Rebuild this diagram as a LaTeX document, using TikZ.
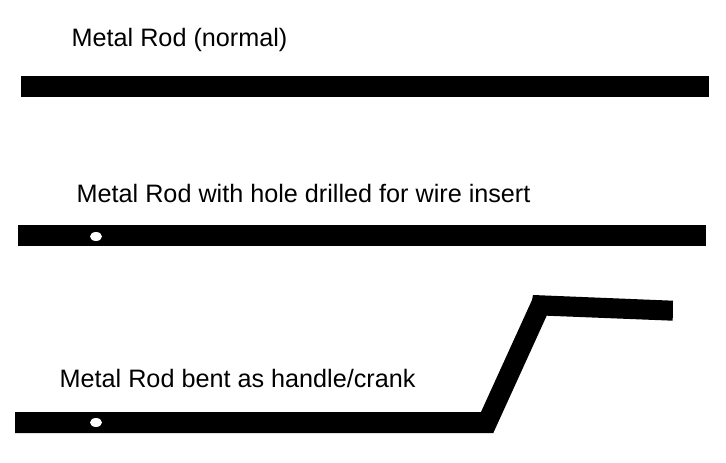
\documentclass[tikz,border=0pt]{standalone}
\usepackage{fontspec}
\setmainfont{Liberation Sans}
\begin{document}
\begin{tikzpicture}[x=1pt,y=-1pt,
  rod/.style={fill=black,draw=none},
  hole/.style={fill=white,draw=none},
  lbl/.style={anchor=base west,inner sep=0pt,font=\fontsize{25.2}{30}\selectfont}]
\useasboundingbox (0,0) rectangle (726,463);
\fill[white] (0,0) rectangle (726,463);
\node[lbl] (t1) at (71.5,46) {Metal Rod (normal)};
\node[lbl] (t2) at (76.5,202) {Metal Rod with hole drilled for wire insert};
\node[lbl] (t3) at (59.5,387) {Metal Rod bent as handle/crank};
\fill[rod] (21,76) rectangle (709,97);
\fill[rod] (18,225) rectangle (706,246);
\fill[hole] (96,236.5) ellipse (6 and 4.5);
\fill[rod] (15,412) -- (481,412) -- (532,300) -- (533,295) -- (673,300.7) -- (672.7,320.7) -- (546.7,315.7) -- (493.3,433) -- (15,433) -- cycle;
\fill[hole] (96,422.5) ellipse (6 and 4.5);
\end{tikzpicture}
\end{document}
